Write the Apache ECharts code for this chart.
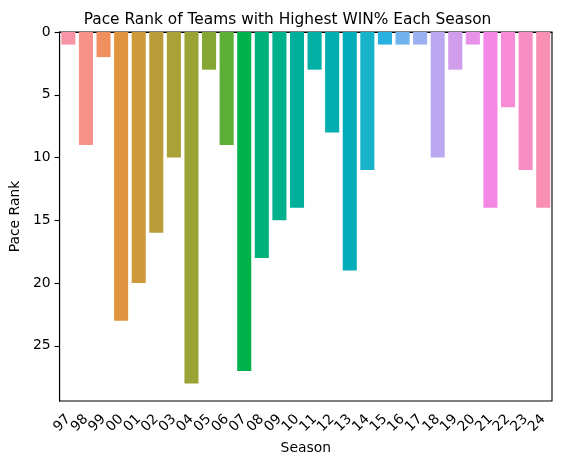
<!DOCTYPE html>
<html>
<head>
<meta charset="utf-8">
<script src="https://cdn.jsdelivr.net/npm/echarts@6/dist/echarts.min.js"></script>
<style>
html, body { margin: 0; padding: 0; background: #fff; }
#chart { width: 565px; height: 463px; }
</style>
</head>
<body>
<div id="chart"></div>
<script>
var seasons = ['97', '98', '99', '00', '01', '02', '03', '04', '05', '06', '07', '08', '09', '10',
               '11', '12', '13', '14', '15', '16', '17', '18', '19', '20', '21', '22', '23', '24'];
var paceRank = [1, 9, 2, 23, 20, 16, 10, 28, 3, 9, 27, 18, 15, 14,
                3, 8, 19, 11, 1, 1, 1, 10, 3, 1, 14, 6, 11, 14];
var yTicks = [0, 5, 10, 15, 20, 25];

//一个季节一个颜色
var palette = ['#f795a6', '#f8938a', '#f08f5f', '#e0943f', '#cc993b', '#ba9d38', '#aba237',
               '#9aa336', '#84a734', '#5dae36', '#00b24c', '#00b179', '#00b18c', '#00b09a',
               '#00afa6', '#00aeb0', '#00adb8', '#18b2c9', '#28b0e0', '#70b2ed', '#9bb0ef',
               '#baa9f0', '#d29cec', '#e891e8', '#f587e5', '#f78bd6', '#f78dc5', '#f790b2'];

var font = 'DejaVu Sans';
var option = {
    backgroundColor: '#fff',
    animation: false,
    title: {
        text: 'Pace Rank of Teams with Highest WIN% Each Season',
        left: '50%',
        textAlign: 'center',
        top: 7,
        textStyle: {
            fontFamily: font,
            fontSize: 15.4,
            fontWeight: 'normal',
            color: '#000'
        }
    },
    grid: {
        left: 57,
        right: 13,
        top: 32,
        bottom: 62,
        show: true,
        borderColor: '#000',
        borderWidth: 1.1,
        containLabel: false
    },
    xAxis: {
        type: 'category',
        data: seasons,
        name: 'Season',
        nameLocation: 'middle',
        nameGap: 38,
        nameTextStyle: {
            fontFamily: font,
            fontSize: 13.9,
            color: '#000'
        },
        axisLine: {
            lineStyle: { color: '#000', width: 1.1 }
        },
        axisTick: {
            alignWithLabel: true,
            length: 5,
            lineStyle: { color: '#000', width: 1.1 }
        },
        axisLabel: {
            rotate: 45,
            margin: 16,
            interval: 0,
            fontFamily: font,
            fontSize: 13.9,
            color: '#000'
        },
        splitLine: { show: false }
    },
    yAxis: {
        type: 'value',
        inverse: true,
        min: 0,
        max: 29.4,
        name: 'Pace Rank',
        nameLocation: 'middle',
        nameRotate: 90,
        nameGap: 36,
        nameTextStyle: {
            fontFamily: font,
            fontSize: 13.9,
            color: '#000'
        },
        axisLine: {
            show: true,
            lineStyle: { color: '#000', width: 1.1 }
        },
        axisTick: {
            show: true,
            length: 5,
            customValues: yTicks,
            lineStyle: { color: '#000', width: 1.1 }
        },
        axisLabel: {
            margin: 9,
            customValues: yTicks,
            fontFamily: font,
            fontSize: 13.9,
            color: '#000'
        },
        splitLine: { show: false }
    },
    series: [
        {
            type: 'bar',
            barCategoryGap: '20%',
            data: paceRank.map(function (v, i) {
                return { value: v, itemStyle: { color: palette[i] } };
            })
        }
    ]
};

var chart = echarts.init(document.getElementById('chart'));
chart.setOption(option);
</script>
</body>
</html>
